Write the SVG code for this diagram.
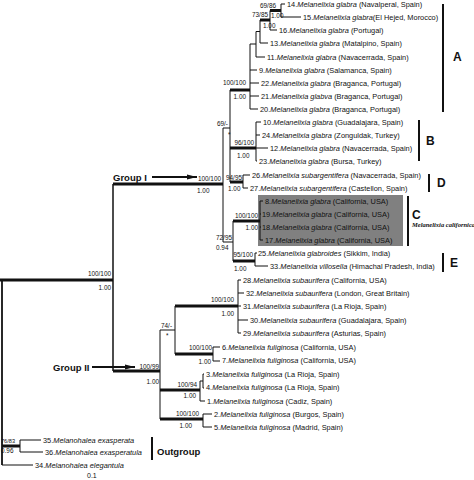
<svg xmlns="http://www.w3.org/2000/svg" width="474" height="480" viewBox="0 0 474 480">
<style>
.lf{font-family:"Liberation Sans",Arial,sans-serif;font-size:7.4px;fill:#111}
.it{font-style:italic}
.sv{font-family:"Liberation Sans",Arial,sans-serif;font-size:6.4px;fill:#111}
.end{text-anchor:end}
.grp{font-family:"Liberation Sans",Arial,sans-serif;font-size:9.5px;font-weight:bold;fill:#111}
.cl{font-family:"Liberation Sans",Arial,sans-serif;font-size:12px;font-weight:bold;fill:#111}
.br{fill:none;stroke:#111;stroke-width:1}
.tk{fill:none;stroke:#111;stroke-width:3}
.bar{fill:none;stroke:#111;stroke-width:2}
.arr{fill:none;stroke:#111;stroke-width:2}
</style>
<defs>
<marker id="ah" markerWidth="10" markerHeight="6" refX="10" refY="3" orient="auto" markerUnits="userSpaceOnUse">
<path d="M0,0.6 L10,3 L0,5.4 Z" fill="#111"/>
</marker>
</defs>
<rect width="474" height="480" fill="#fff"/>
<g id="clade-C-box"><rect x="258" y="195" width="145" height="51" fill="#808080"/></g>
<g id="connectors">
<path class="br" style="stroke-width:1.8" d="M2,280 V465"/>
<path class="br" d="M2,465 H33 M20,440 V452 M20,440 H41 M20,452 H43"/>
<path class="tk" d="M0,280 H113 M2,446 H20"/>
<path class="br" style="stroke-width:1.5" d="M113,184 V371"/>
<path class="tk" d="M113,184 H223 M113,371 H160"/>
<path class="br" d="M223,128 V242 M223,128 H230 M230,90 V182 M223,242 H233 M233,221 V261"/>
<path class="tk" d="M230,90 H250 M230,148 H256 M230,182 H243 M233,221 H260 M233,261 H255"/>
<path class="br" d="M250,44 V109 M250,70 H257 M250,83 H259 M250,96 H259 M250,109 H258 M250,44 H256 M256,31.5 V57 M256,57 H265 M256,31.5 H260 M260,20 V43 M260,43 H268 M270,10.5 V30 M270,30 H277 M281,4 V17 M281,4 H285 M281,17 H301"/>
<path class="tk" d="M260,20 H270 M270,10.5 H281"/>
<path class="br" d="M256,122 V161 M256,122 H261 M256,135 H260 M256,148 H268 M256,161 H257"/>
<path class="br" d="M243,175 V188 M243,175 H250 M243,188 H248"/>
<path class="br" d="M260,201 V240 M260,201 H263 M260,214 H261 M260,227 H261 M260,240 H263"/>
<path class="br" d="M255,253 V266 M255,253 H257 M255,266 H268"/>
<path class="br" d="M160,330 V419 M160,330 H175 M175,306 V354"/>
<path class="tk" d="M175,306 H238 M175,354 H213 M160,390 H200 M160,419 H203"/>
<path class="br" d="M238,280 V333 M238,280 H241 M238,293 H244 M238,306 H241 M238,320 H248 M238,333 H241"/>
<path class="br" d="M213,347 V361 M213,347 H220 M213,361 H220"/>
<path class="br" d="M200,381 V401 M200,381 H203 M203,374 V388 M203,374 H204 M203,388 H204 M200,401 H205"/>
<path class="br" d="M203,414 V427 M203,414 H212 M203,427 H212"/>
<path class="arr" d="M152,177 H197" marker-end="url(#ah)"/>
<path class="arr" d="M92,367 H135" marker-end="url(#ah)"/>
</g>
<g id="bars">
<path class="bar" d="M443,4 V112 M419,120 V161 M429,174 V192 M408,196 V246 M443,253 V272 M152,437 V460"/>
</g>
<g id="leaf-14"><text class="lf" x="287" y="6.5">14.<tspan class="it">Melanelixia glabra</tspan> (Navalperal, Spain)</text></g>
<g id="leaf-15"><text class="lf" x="303" y="19.5">15.<tspan class="it">Melanelixia glabra</tspan>(El Hejed, Morocco)</text></g>
<g id="leaf-16"><text class="lf" x="279" y="32.5">16.<tspan class="it">Melanelixia glabra</tspan> (Portugal)</text></g>
<g id="leaf-13"><text class="lf" x="270" y="45.5">13.<tspan class="it">Melanelixia glabra</tspan> (Matalpino, Spain)</text></g>
<g id="leaf-11"><text class="lf" x="267" y="59.5">11.<tspan class="it">Melanelixia glabra</tspan> (Navacerrada, Spain)</text></g>
<g id="leaf-9"><text class="lf" x="259" y="72.5">9.<tspan class="it">Melanelixia glabra</tspan> (Salamanca, Spain)</text></g>
<g id="leaf-22"><text class="lf" x="261" y="85.5">22.<tspan class="it">Melanelixia glabra</tspan> (Braganca, Portugal)</text></g>
<g id="leaf-21"><text class="lf" x="261" y="98.5">21.<tspan class="it">Melanelixia glabva</tspan> (Braganca, Portugal)</text></g>
<g id="leaf-20"><text class="lf" x="260" y="111.5">20.<tspan class="it">Melanelixia glabra</tspan> (Braganca, Portugal)</text></g>
<g id="leaf-10"><text class="lf" x="263" y="124.5">10.<tspan class="it">Melanelixia glabra</tspan> (Guadalajara, Spain)</text></g>
<g id="leaf-24"><text class="lf" x="262" y="137.5">24.<tspan class="it">Melanelixia glabra</tspan> (Zonguldak, Turkey)</text></g>
<g id="leaf-12"><text class="lf" x="270" y="150.5">12.<tspan class="it">Melanelixia glabra</tspan> (Navacerrada, Spain)</text></g>
<g id="leaf-23"><text class="lf" x="259" y="163.5">23.<tspan class="it">Melanelixia glabra</tspan> (Bursa, Turkey)</text></g>
<g id="leaf-26"><text class="lf" x="252" y="177.5">26.<tspan class="it">Melanelixia subargentifera</tspan> (Navacerrada, Spain)</text></g>
<g id="leaf-27"><text class="lf" x="250" y="190.5">27.<tspan class="it">Melanelixia subargentifera</tspan> (Castellon, Spain)</text></g>
<g id="leaf-8"><text class="lf" x="265" y="203.5">8.<tspan class="it">Melanelixia glabra</tspan> (California, USA)</text></g>
<g id="leaf-19"><text class="lf" x="262" y="216.5">19.<tspan class="it">Melanelixia glabra</tspan> (California, USA)</text></g>
<g id="leaf-18"><text class="lf" x="262" y="229.5">18.<tspan class="it">Melanelixia glabra</tspan> (California, USA)</text></g>
<g id="leaf-17"><text class="lf" x="265" y="242.5">17.<tspan class="it">Melanelixia glabra</tspan> (California, USA)</text></g>
<g id="leaf-25"><text class="lf" x="258" y="255.5">25.<tspan class="it">Melanelixia glabroides</tspan> (Sikkim, India)</text></g>
<g id="leaf-33"><text class="lf" x="270" y="268.5">33.<tspan class="it">Melanelixia villosella</tspan> (Himachal Pradesh, India)</text></g>
<g id="leaf-28"><text class="lf" x="243" y="282.5">28.<tspan class="it">Melanelixia subaurifera</tspan> (California, USA)</text></g>
<g id="leaf-32"><text class="lf" x="246" y="295.5">32.<tspan class="it">Melanelixia subaurifera</tspan> (London, Great Britain)</text></g>
<g id="leaf-31"><text class="lf" x="243" y="308.5">31.<tspan class="it">Melanelixia subaurifera</tspan> (La Rioja, Spain)</text></g>
<g id="leaf-30"><text class="lf" x="250" y="322.5">30.<tspan class="it">Melanelixia subaurifera</tspan> (Guadalajara, Spain)</text></g>
<g id="leaf-29"><text class="lf" x="243" y="335.5">29.<tspan class="it">Melanelixia subaurifera</tspan> (Asturias, Spain)</text></g>
<g id="leaf-6"><text class="lf" x="222" y="349.5">6.<tspan class="it">Melanelixia fuliginosa</tspan> (California, USA)</text></g>
<g id="leaf-7"><text class="lf" x="222" y="363">7.<tspan class="it">Melanelixia fuliginosa</tspan> (California, USA)</text></g>
<g id="leaf-3"><text class="lf" x="206" y="376.5">3.<tspan class="it">Melanelixia fuliginosa</tspan> (La Rioja, Spain)</text></g>
<g id="leaf-4"><text class="lf" x="206" y="390">4.<tspan class="it">Melanelixia fuliginosa</tspan> (La Rioja, Spain)</text></g>
<g id="leaf-1"><text class="lf" x="207" y="403.5">1.<tspan class="it">Melanelixia fuliginosa</tspan> (Cadiz, Spain)</text></g>
<g id="leaf-2"><text class="lf" x="214" y="416.5">2.<tspan class="it">Melanelixia fuliginosa</tspan> (Burgos, Spain)</text></g>
<g id="leaf-5"><text class="lf" x="214" y="429.5">5.<tspan class="it">Melanelixia fuliginosa</tspan> (Madrid, Spain)</text></g>
<g id="leaf-35"><text class="lf" x="43" y="442.5">35.<tspan class="it">Melanohalea exasperata</tspan></text></g>
<g id="leaf-36"><text class="lf" x="45" y="455">36.<tspan class="it">Melanohalea exasperatula</tspan></text></g>
<g id="leaf-34"><text class="lf" x="35" y="467.5">34.<tspan class="it">Melanohalea elegantula</tspan></text></g>
<g id="support">
<text class="sv end" x="111" y="276">100/100</text><text class="sv end" x="111" y="290">1.00</text>
<text class="sv" x="1" y="443" style="font-size:5.6px">76/83</text><text class="sv" x="1" y="453">0.96</text>
<text class="sv end" x="221" y="181">100/100</text><text class="sv" x="197" y="193">1.00</text>
<text class="sv end" x="159" y="369">100/99</text><text class="sv end" x="159" y="384">1.00</text>
<text class="sv end" x="246" y="85">100/100</text><text class="sv end" x="246" y="99">1.00</text>
<text class="sv end" x="276" y="8">69/86</text><text class="sv" x="271" y="18">1.00</text>
<text class="sv end" x="268" y="17">73/85</text><text class="sv" x="263" y="28">1.00</text>
<text class="sv end" x="228" y="126">69/-</text><text class="sv" x="228" y="137">*</text>
<text class="sv end" x="254" y="145">96/100</text><text class="sv" x="237" y="158">1.00</text>
<text class="sv" x="226" y="180">94/95</text><text class="sv" x="228" y="191">1.00</text>
<text class="sv end" x="258" y="218">100/100</text><text class="sv end" x="258" y="230">1.00</text>
<text class="sv" x="216" y="240">72/95</text><text class="sv" x="216" y="250">0.94</text>
<text class="sv end" x="253" y="257">95/100</text><text class="sv" x="234" y="271">1.00</text>
<text class="sv end" x="234" y="302">100/100</text><text class="sv end" x="234" y="316">1.00</text>
<text class="sv" x="161" y="328">74/-</text><text class="sv" x="166" y="338">*</text>
<text class="sv end" x="212" y="350">100/100</text><text class="sv end" x="211" y="364">1.00</text>
<text class="sv end" x="197" y="387">100/94</text><text class="sv end" x="196" y="398">1.00</text>
<text class="sv end" x="199" y="416">100/100</text><text class="sv end" x="192" y="428">1.00</text>
</g>
<g id="group-I"><text class="grp" x="113" y="181">Group I</text></g>
<g id="group-II"><text class="grp" x="53" y="371">Group II</text></g>
<g id="clade-A"><text class="cl" x="453" y="61">A</text></g>
<g id="clade-B"><text class="cl" x="426" y="145">B</text></g>
<g id="clade-D"><text class="cl" x="437" y="187">D</text></g>
<g id="clade-C"><text class="cl" x="412" y="219">C</text><text x="412" y="227" style="font-family:'Liberation Serif','Times New Roman',serif;font-size:6.5px;font-style:italic;font-weight:bold;fill:#111">Melanelixia californica</text></g>
<g id="clade-E"><text class="cl" x="450" y="267">E</text></g>
<g id="outgroup"><text class="grp" x="157" y="455">Outgroup</text></g>
<g id="scale"><text class="sv" x="87" y="478" style="font-size:7px">0.1</text></g>
</svg>
